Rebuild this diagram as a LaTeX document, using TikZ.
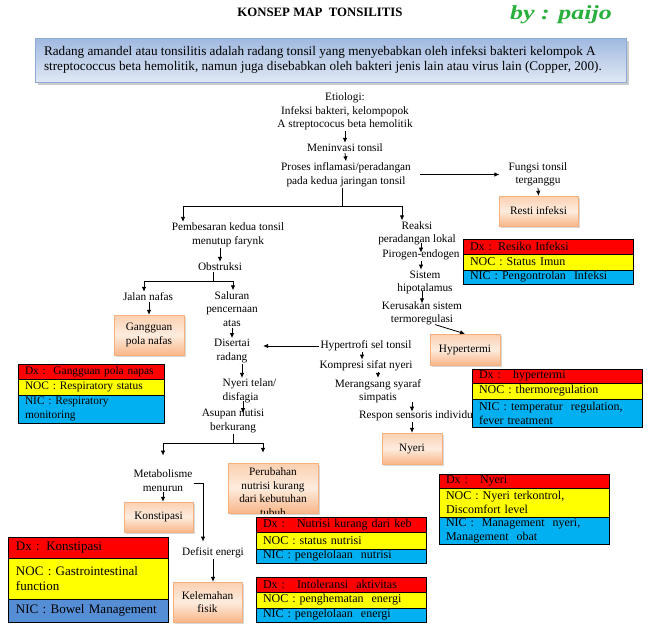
\documentclass[tikz,border=0pt]{standalone}
\usepackage{fontspec}
\setmainfont{Liberation Serif}
\usepackage{graphicx}
\usepackage{xcolor}
\usepackage{tikz}
\usetikzlibrary{positioning}
\usetikzlibrary{shadows}
\usetikzlibrary{arrows.meta}

\definecolor{dxmerah}{RGB}{255,0,0}
\definecolor{dxkuning}{RGB}{255,255,0}
\definecolor{dxbiru}{RGB}{0,176,240}
\definecolor{dxbirutua}{RGB}{85,142,213}
\definecolor{oranyeatas}{RGB}{251,208,176}
\definecolor{oranyetengah}{RGB}{253,236,222}
\definecolor{oranyebawah}{RGB}{248,182,136}
\definecolor{oranyegaris}{RGB}{246,176,126}
\definecolor{biruatas}{RGB}{160,185,224}
\definecolor{birubawah}{RGB}{224,232,244}
\definecolor{birugaris}{RGB}{140,170,212}
\definecolor{hijau}{RGB}{40,175,60}

\tikzset{
  alur/.style={align=center, inner sep=1pt, font=\fontsize{11.3}{13.5}\selectfont},
  kotak/.style={draw=oranyegaris, top color=oranyeatas, bottom color=oranyebawah,
    middle color=oranyetengah, align=center, inner sep=1pt,
    font=\fontsize{11.3}{13.5}\selectfont,
    drop shadow={shadow xshift=2pt, shadow yshift=-2pt, fill=black!30}},
  panah/.style={-{Latex[length=5pt,width=4.5pt]}, line width=0.8pt},
  garis/.style={line width=0.8pt},
  dx/.style={draw, line width=0.9pt, anchor=north west, outer sep=0pt, align=left,
    inner xsep=7pt, inner ysep=0pt, text width=156pt, font=\fontsize{12}{14}\selectfont},
  merah/.style={dx, fill=dxmerah},
  kuning/.style={dx, fill=dxkuning},
  biru/.style={dx, fill=dxbiru}
}

\begin{document}
\begin{tikzpicture}[x=1pt,y=-1pt]
  \useasboundingbox (0,0) rectangle (652,629);

  % judul
  \node[font=\bfseries\fontsize{12.8}{15}\selectfont] (judul) at (320,12) {KONSEP MAP\ \ TONSILITIS};
  \node[text=hijau, font=\bfseries\itshape\fontsize{20}{24}\selectfont] (oleh) at (561,15) {\scalebox{1.3}[1]{by : paijo}};
  \node[draw=birugaris, top color=biruatas, bottom color=birubawah, minimum width=591pt, minimum height=44pt,
    drop shadow={shadow xshift=3pt, shadow yshift=-3pt, fill=black!40}] (definisi) at (330.5,60) {};
  \node[anchor=west, align=left, inner sep=0pt, font=\fontsize{13.2}{15}\selectfont] (defteks) at ([xshift=9pt]definisi.west)
    {Radang amandel atau tonsilitis adalah radang tonsil yang menyebabkan oleh infeksi bakteri kelompok A\\
     streptococcus beta hemolitik, namun juga disebabkan oleh bakteri jenis lain atau virus lain (Copper, 200).};

  % alur utama
  \node[alur] (etio) at (345,111.5) {Etiologi:\\Infeksi bakteri, kelompopok\\A streptococus beta hemolitik};
  \node[alur] (invasi) at (345,148) {Meninvasi tonsil};
  \node[alur] (inflam) at (346,174.5) {Proses inflamasi/peradangan\\pada kedua jaringan tonsil};
  \node[alur] (fungsi) at (538,174.5) {Fungsi tonsil\\terganggu};
  \node[kotak, minimum width=79pt, minimum height=30pt] (resti) at (538.5,211) {Resti infeksi};

  % cabang kiri
  \node[alur] (besar) at (228,235) {Pembesaran kedua tonsil\\menutup farynk};
  \node[alur] (obstruksi) at (220,267) {Obstruksi};
  \node[alur] (jalan) at (148,297) {Jalan nafas};
  \node[kotak, minimum width=70pt, minimum height=40pt] (polanafas) at (149,335) {Gangguan\\pola nafas};
  \node[alur] (saluran) at (232,309) {Saluran\\pencernaan\\atas};
  \node[alur] (radang) at (232,351) {Disertai\\radang};
  \node[alur, align=left] (telan) at (249.5,391) {Nyeri telan/\\disfagia};
  \node[alur] (asupan) at (233,421) {Asupan nutisi\\berkurang};
  \node[alur] (metabolisme) at (163,480.5) {Metabolisme\\menurun};
  \node[kotak, minimum width=69pt, minimum height=30pt] (konstipasi) at (158.5,517) {Konstipasi};
  \node[alur] (defisit) at (213,553) {Defisit energi};
  \node[kotak, minimum width=69pt, minimum height=40pt] (lemah) at (207.5,602) {Kelemahan\\fisik};
  \node[kotak, minimum width=90pt, minimum height=50pt] (ubah) at (273,488) {};
  \node[alur, anchor=north] (ubahteks) at ([yshift=-4pt]ubah.north) {Perubahan\\nutrisi kurang\\dari kebutuhan};
  \begin{scope}
    \clip (ubah.south west) rectangle (ubah.north east);
    \node[alur, anchor=base, inner sep=0pt] (ubahsisa) at ([yshift=-3pt]ubah.south) {tubuh};
  \end{scope}

  % cabang kanan
  \node[alur] (reaksi) at (417,233.5) {Reaksi\\peradangan lokal};
  \node[alur] (pirogen) at (421,255) {Pirogen-endogen};
  \node[alur] (hipotalamus) at (425,282.5) {Sistem\\hipotalamus};
  \node[alur] (termo) at (422,313.5) {Kerusakan sistem\\termoregulasi};
  \node[kotak, minimum width=70pt, minimum height=31pt] (hipertermi) at (465,349.5) {Hypertermi};
  \node[alur] (hipertrofi) at (366,346) {Hypertrofi sel tonsil};
  \node[alur] (kompresi) at (366,366) {Kompresi sifat nyeri};
  \node[alur] (syaraf) at (378,391) {Merangsang syaraf\\simpatis};
  \node[alur] (respon) at (416,416) {Respon sensoris individu};
  \node[kotak, minimum width=60pt, minimum height=31pt] (nyeri) at (412,448.5) {Nyeri};

  % panah
  \coordinate (cabang1) at (342,206);
  \coordinate (kiri1) at (183,206);
  \coordinate (kanan1) at (402,206);
  \coordinate (cabang2) at (213,281);
  \coordinate (kiri2) at (144,281);
  \coordinate (kanan2) at (233,281);
  \coordinate (cabang3) at (233,443);
  \coordinate (kiri3) at (163,443);
  \coordinate (kanan3) at (263,443);
  \coordinate (belok) at (203,483);

  \draw[panah] (etio.south) -- (invasi.north);
  \draw[panah] (invasi.south) -- (inflam.north);
  \draw[panah, shorten <=8pt, shorten >=8pt] (inflam.east) -- (fungsi.west);
  \draw[panah] (fungsi.south) -- (resti.north);
  \draw[garis] (cabang1 |- inflam.south) -- (cabang1);
  \draw[garis] (kiri1) -- (kanan1);
  \draw[panah] (kiri1) -- (kiri1 |- besar.north);
  \draw[panah] (kanan1) -- (kanan1 |- reaksi.north);

  \draw[panah] (obstruksi.north |- besar.south) -- (obstruksi.north);
  \draw[garis] (cabang2 |- obstruksi.south) -- (cabang2);
  \draw[garis] (kiri2) -- (kanan2);
  \draw[panah] (kiri2) -- (kiri2 |- jalan.north);
  \draw[panah] (kanan2) -- (kanan2 |- saluran.north);
  \draw[panah] (jalan.south -| polanafas.north) -- (polanafas.north);
  \draw[panah] (saluran.south) -- (saluran.south |- radang.north);
  \draw[panah, shorten >=12pt] (hipertrofi.west) -- (hipertrofi.west -| radang.east);
  \draw[panah] ([xshift=10pt]radang.south) -- ([xshift=10pt]radang.south |- telan.north);
  \draw[panah] ([xshift=10pt,yshift=3pt]telan.south -| asupan.north) -- ([xshift=10pt,yshift=-5pt]asupan.north);
  \draw[garis] (asupan.south) -- (asupan.south |- cabang3);
  \draw[garis] (kiri3) -- (kanan3);
  \draw[panah, shorten >=13pt] (kiri3) -- (kiri3 |- metabolisme.north);
  \draw[panah, shorten >=10pt] (kanan3) -- (kanan3 |- ubah.north);
  \draw[panah] (metabolisme.south) -- (metabolisme.south |- konstipasi.north);
  \draw[panah, shorten >=5pt] (metabolisme.east |- belok) -- (belok) -- (belok |- defisit.north);
  \draw[panah] (defisit.south) -- (defisit.south |- lemah.north);

  \draw[panah] ([yshift=4pt]reaksi.south -| pirogen.north) -- ([yshift=-4pt]pirogen.north);
  \draw[panah] (pirogen.south) -- (pirogen.south |- hipotalamus.north);
  \draw[panah] ([yshift=4pt]hipotalamus.south -| termo.north) -- ([yshift=-3pt]termo.north);
  \draw[panah] ([xshift=13pt,yshift=2pt]termo.south) -- (hipertermi.north);
  \draw[panah] ([xshift=-4pt]hipertrofi.south) -- ([xshift=-4pt]hipertrofi.south |- kompresi.north);
  \draw[panah] (kompresi.south -| syaraf.north) -- (syaraf.north);
  \draw[panah] ([yshift=2pt]syaraf.south -| nyeri.north) -- ([yshift=-2pt]respon.north -| nyeri.north);
  \draw[panah] (respon.south -| nyeri.north) -- (nyeri.north);

  % diagnosa
  \node[merah, text width=132pt, minimum height=15pt, font=\fontsize{11.4}{14}\selectfont] (dxnapas) at (18,364) {Dx :\ \ Gangguan pola napas};
  \node[kuning, text width=132pt, minimum height=16pt, font=\fontsize{11.4}{14}\selectfont, below=0pt of dxnapas] (nocnapas) {NOC : Respiratory status};
  \node[biru, text width=132pt, minimum height=28pt, font=\fontsize{11.4}{14}\selectfont, below=0pt of nocnapas] (nicnapas) {NIC : Respiratory\\monitoring};

  \node[merah, minimum height=15pt] (dxinfeksi) at (463,239) {Dx : Resiko Infeksi};
  \node[kuning, minimum height=16pt, below=0pt of dxinfeksi] (nocinfeksi) {NOC : Status Imun};
  \node[biru, minimum height=14pt, below=0pt of nocinfeksi] (nicinfeksi) {NIC : Pengontrolan\ \ Infeksi};

  \node[merah, minimum height=14pt] (dxsuhu) at (472,369) {Dx :\ \ \ hypertermi};
  \node[kuning, minimum height=16pt, below=0pt of dxsuhu] (nocsuhu) {NOC : thermoregulation};
  \node[biru, minimum height=28pt, below=0pt of nocsuhu] (nicsuhu) {NIC : temperatur\ \ regulation,\\fever treatment};

  \node[merah, minimum height=14pt] (dxnyeri) at (439,474) {Dx :\ \ \ Nyeri};
  \node[kuning, minimum height=29pt, below=0pt of dxnyeri] (nocnyeri) {NOC : Nyeri terkontrol,\\Discomfort level};
  \node[biru, minimum height=27pt, below=0pt of nocnyeri] (nicnyeri) {NIC :\ \ Management\ \ nyeri,\\Management\ \ obat};

  \node[merah, minimum height=15pt] (dxnutrisi) at (256,517) {Dx :\ \ \ Nutrisi kurang dari keb};
  \node[kuning, minimum height=17pt, below=0pt of dxnutrisi] (nocnutrisi) {NOC : status nutrisi};
  \node[biru, minimum height=14pt, below=0pt of nocnutrisi] (nicnutrisi) {NIC : pengelolaan\ \ nutrisi};

  \node[merah, minimum height=15pt] (dxaktivitas) at (256,577) {Dx :\ \ \ Intoleransi\ \ aktivitas};
  \node[kuning, minimum height=16pt, below=0pt of dxaktivitas] (nocaktivitas) {NOC : penghematan\ \ energi};
  \node[biru, minimum height=14pt, below=0pt of nocaktivitas] (nicaktivitas) {NIC : pengelolaan\ \ energi};

  \node[merah, text width=144pt, inner xsep=8pt, minimum height=21pt, font=\fontsize{13}{15}\selectfont] (dxbab) at (8,537) {Dx : Konstipasi};
  \node[kuning, text width=144pt, inner xsep=8pt, minimum height=41pt, font=\fontsize{13}{15}\selectfont, below=0pt of dxbab] (nocbab) {NOC : Gastrointestinal\\function};
  \node[biru, fill=dxbirutua, text width=144pt, inner xsep=8pt, minimum height=23pt, font=\fontsize{13}{15}\selectfont, below=0pt of nocbab] (nicbab) {NIC : Bowel Management};
\end{tikzpicture}
\end{document}
